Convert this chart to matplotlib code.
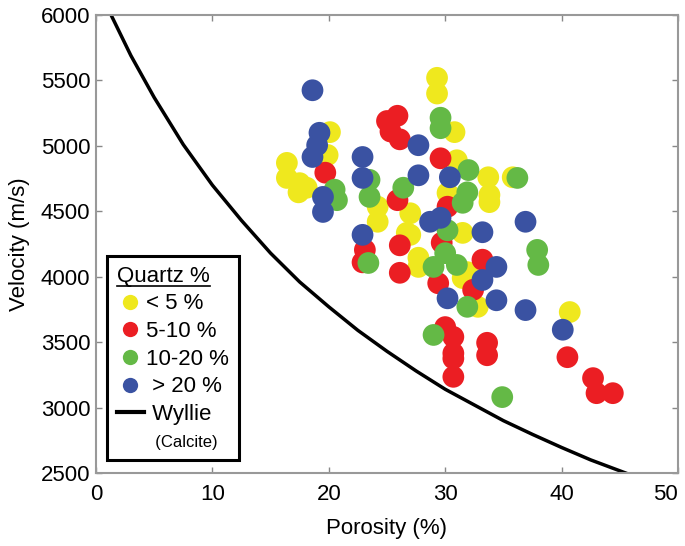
import matplotlib
matplotlib.use('Agg')
import matplotlib.pyplot as plt
from matplotlib.lines import Line2D

plt.rcParams['font.family'] = ['Liberation Sans', 'DejaVu Sans']

# porosity (%) / velocity (m/s), per quartz class
yellow_phi = [29.3, 29.3, 30.8, 31.0, 33.7, 33.8, 35.8, 27.0, 30.2, 26.7, 20.1, 19.9, 16.4, 16.4,
              17.5, 17.4, 18.1, 24.2, 24.2, 27.0, 27.7, 27.7, 31.5, 33.8, 31.9, 32.8, 31.5, 40.7]
yellow_vel = [5520, 5400, 5105, 4890, 4760, 4625, 4760, 4485, 4640, 4335, 5105, 4930, 4870, 4755,
              4715, 4645, 4680, 4535, 4420, 4320, 4145, 4075, 4335, 4570, 4035, 3770, 3990, 3730]

red_phi = [25.0, 25.9, 25.3, 26.1, 19.7, 25.9, 29.6, 30.2, 23.1, 22.9, 26.1, 26.1, 29.7, 29.4,
           33.2, 32.4, 30.0, 30.7, 30.7, 30.7, 30.7, 33.6, 33.6, 40.5, 42.7, 43.0, 44.4]
red_vel = [5190, 5230, 5110, 5050, 4795, 4585, 4905, 4535, 4205, 4110, 4240, 4030, 4260, 3950,
           4130, 3900, 3615, 3540, 3415, 3375, 3235, 3495, 3400, 3385, 3225, 3110, 3110]

green_phi = [20.5, 20.7, 23.5, 23.5, 26.4, 29.6, 29.6, 32.0, 36.2, 31.9, 31.5, 30.2, 29.0, 30.0,
             31.0, 23.4, 37.9, 38.0, 31.9, 29.0, 34.9]
green_vel = [4665, 4585, 4740, 4610, 4680, 5215, 5135, 4815, 4755, 4645, 4565, 4355, 4075, 4180,
             4090, 4105, 4205, 4090, 3770, 3555, 3080]

blue_phi = [18.6, 19.2, 19.0, 18.6, 19.5, 19.5, 22.9, 22.9, 22.9, 27.7, 27.7, 30.4, 28.7, 29.6,
            36.9, 33.2, 34.4, 33.2, 30.2, 34.4, 36.9, 40.1]
blue_vel = [5425, 5100, 5005, 4915, 4610, 4495, 4915, 4755, 4320, 5005, 4775, 4760, 4420, 4450,
            4420, 4340, 4075, 3975, 3835, 3820, 3745, 3595]

# Wyllie (calcite) curve
wyllie_phi = [1.3, 3, 5, 7.5, 10, 12.5, 15, 17.5, 20, 22.5, 25, 27.5, 30, 32.5, 35, 37.5, 40, 42.5, 45.5]
wyllie_vel = [6000, 5690, 5370, 5010, 4700, 4430, 4180, 3960, 3770, 3590, 3430, 3280, 3140, 3020,
              2900, 2795, 2695, 2600, 2500]

labels = ['< 5 %', '5-10 %', '10-20 %', ' > 20 %']
colors = ['#EFE81E', '#EB1E23', '#64B946', '#3A52A2']

fig = plt.figure(figsize=(6.85, 5.46), dpi=100)
ax = fig.add_axes([0.1401, 0.1337, 0.8497, 0.8388])

ax.plot(wyllie_phi, wyllie_vel, color='black', lw=2.5, zorder=1)
for xs, ys, c in zip([yellow_phi, red_phi, green_phi, blue_phi],
                     [yellow_vel, red_vel, green_vel, blue_vel], colors):
    ax.scatter(xs, ys, s=245, color=c, edgecolors='none', zorder=2)

ax.set_xlim(0, 50)
ax.set_ylim(2500, 6000)
ax.set_xticks(range(0, 51, 10))
ax.set_yticks(range(2500, 6001, 500))
ax.tick_params(direction='in', top=True, right=True, length=4, width=1,
               color='#888888', labelsize=16, pad=4)
ax.tick_params(axis='x', pad=8)
for sp in ax.spines.values():
    sp.set_color('#999999')
    sp.set_linewidth(1.5)
# last x label sits inside the right edge, as in the original
ax.get_xticklabels()[-1].set_horizontalalignment('right')

ax.set_xlabel('Porosity (%)', fontsize=16, labelpad=9)
ax.set_ylabel('Velocity (m/s)', fontsize=16, labelpad=8)

# legend
handles = [Line2D([], [], ls='none', marker='o', ms=11, color=c, mec='none') for c in colors]
handles.append(Line2D([], [], color='black', lw=3))
handles.append(Line2D([], [], color='none'))
leg = ax.legend(handles, labels + [' Wyllie', '  (Calcite)'], title='Quartz %',
                loc='lower left', bbox_to_anchor=(0.019, 0.028), borderaxespad=0,
                fontsize=16, title_fontsize=16, alignment='left',
                fancybox=False, edgecolor='black', framealpha=1,
                handlelength=1.2, handletextpad=0.1, labelspacing=0.3, borderpad=0.45)
leg.get_frame().set_linewidth(2.2)
leg.get_texts()[-1].set_fontsize(12)

fig.canvas.draw()
bb = leg.get_title().get_window_extent()
W, H = fig.bbox.width, fig.bbox.height
fig.add_artist(Line2D([bb.x0 / W, bb.x1 / W], [(bb.y0 + 1) / H, (bb.y0 + 1) / H],
                      color='black', lw=1.2))

fig.savefig('out.png', dpi=100)
